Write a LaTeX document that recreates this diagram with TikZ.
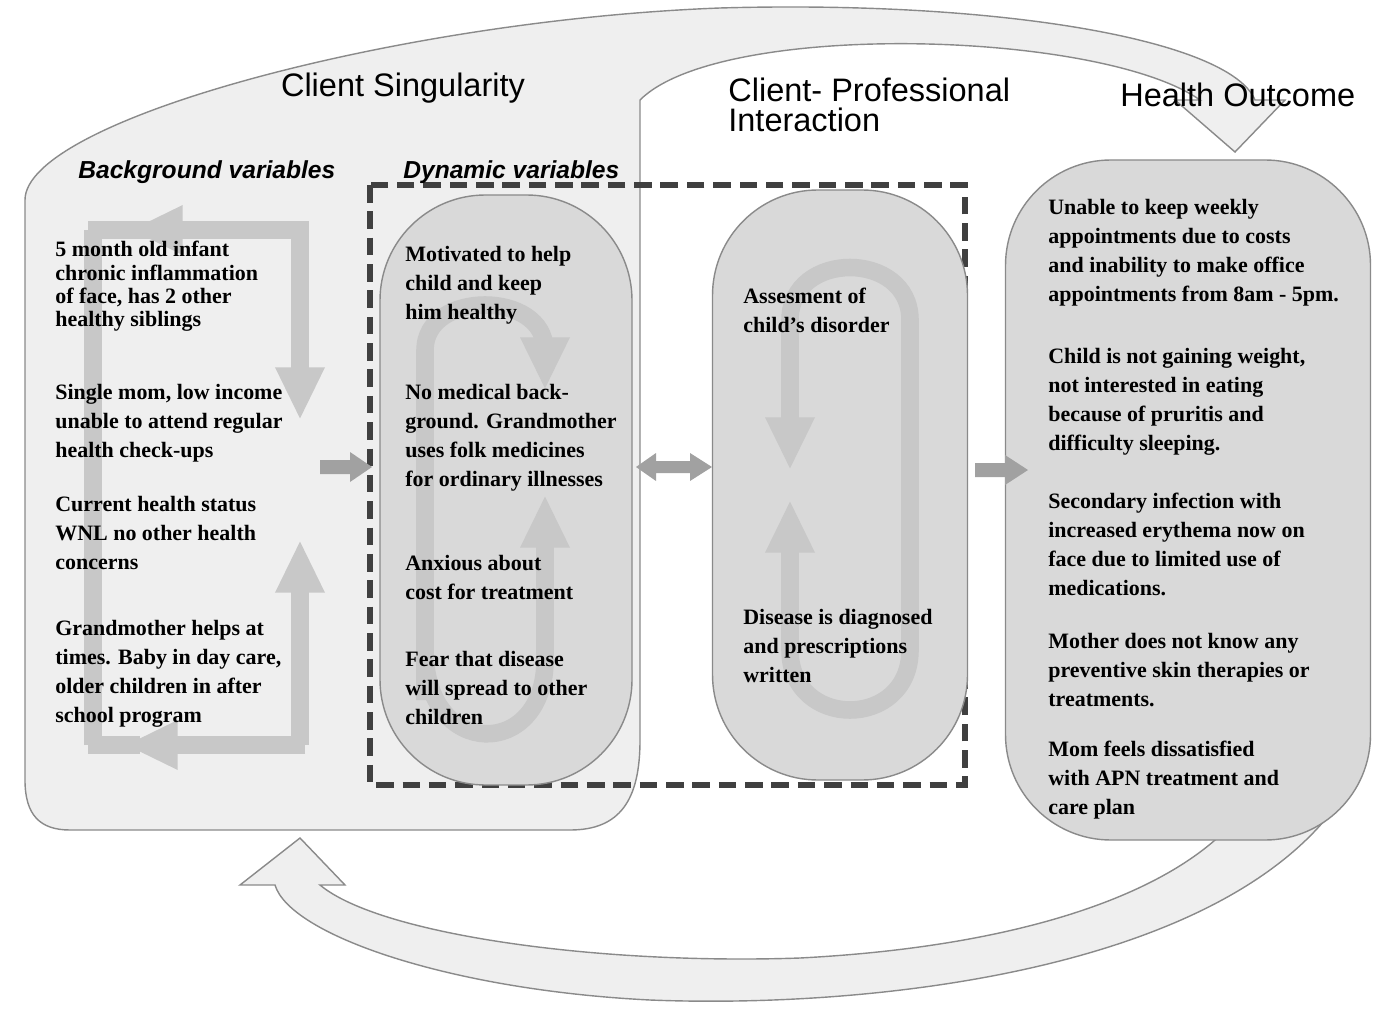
\documentclass[tikz,border=0pt]{standalone}
\usepackage{fontspec}
\setmainfont{Liberation Serif}
\newfontfamily\hsans{Liberation Sans}
\usetikzlibrary{arrows.meta}
\definecolor{bgA}{HTML}{EFEFEF}
\definecolor{bgB}{HTML}{D9D9D9}
\definecolor{loopc}{HTML}{C8C8C8}
\definecolor{edge}{HTML}{8A8A8A}
\begin{document}
\begin{tikzpicture}[x=0.02cm,y=-0.02cm,
  txt/.style={anchor=north west,align=left,inner sep=0pt,font=\fontsize{12.5}{16.4}\selectfont\bfseries},
  ttl/.style={inner sep=0pt,font=\hsans\fontsize{18.5}{17}\selectfont},
  sub/.style={anchor=north west,inner sep=0pt,font=\hsans\fontsize{14}{16}\selectfont\bfseries\itshape},
  box/.style={draw=edge,fill=bgB,rounded corners=60,line width=0.8pt},
  loop/.style={draw=loopc,line width=10pt,-{Triangle[width=26pt,length=30pt]}},
  loopn/.style={draw=loopc,line width=10pt},
  blk/.style={draw=none,fill=edge!80}]
\useasboundingbox (0,0) rectangle (1378,1016);
% bottom return arrow
\path[fill=bgA,draw=edge,line width=0.8pt] (1370,740) .. controls (1300,960) and (900,1010) .. (650,1000)
  .. controls (450,990) and (290,935) .. (275,885) -- (240,885) -- (300,838) -- (345,885) -- (320,885)
  .. controls (380,935) and (600,965) .. (800,958) .. controls (1050,945) and (1200,880) .. (1250,800) -- cycle;
% left region + top arrow
\path[fill=bgA,draw=edge,line width=0.8pt] (25,200) .. controls (25,120) and (400,20) .. (720,8)
  .. controls (1000,0) and (1230,40) .. (1255,100) -- (1285,100) -- (1235,152) -- (1175,100) -- (1200,100)
  .. controls (1100,30) and (720,20) .. (640,100) -- (640,740) .. controls (640,800) and (620,830) .. (570,830)
  -- (70,830) .. controls (40,830) and (25,815) .. (25,780) -- cycle;
% right box
\node[box,minimum width=365*0.02cm,minimum height=680*0.02cm] (rb) at (1188,500) {};
% dashed
\draw[line width=3pt,dash pattern=on 10pt off 5pt,color=black!75] (370,185) rectangle (965,785);
\node[box,minimum width=252*0.02cm,minimum height=590*0.02cm] (db) at (506,490) {};
\node[box,minimum width=255*0.02cm,minimum height=590*0.02cm] (mb) at (840,485) {};
% left loops
\draw[loopn] (93,745) -- (93,230);
\draw[loopn] (88,230) -- (160,230);
\draw[loop] (300,230) -- (130,230);
\draw[loop] (140,230) -- (300,230) -- (300,420);
\draw[loop] (300,745) -- (300,540);
\draw[loop] (305,745) -- (125,745);
\draw[loopn] (88,745) -- (140,745);
% dynamic loop
\draw[loop] (425,700) -- (425,350) .. controls (425,290) and (545,290) .. (545,350) -- (545,390);
\draw[loop] (425,650) .. controls (425,760) and (545,760) .. (545,660) -- (545,495);
% middle loop
\draw[loop] (910,320) .. controls (910,250) and (790,250) .. (790,320) -- (790,470);
\draw[loop] (790,650) -- (790,500);
\draw[loopn] (910,320) -- (910,650) .. controls (910,730) and (790,730) .. (790,650);
% block arrows
\path[blk] (320,460) -- (350,460) -- (350,452) -- (372,467) -- (350,482) -- (350,474) -- (320,474) -- cycle;
\path[blk] (636,467) -- (656,453) -- (656,461) -- (690,461) -- (690,453) -- (712,467) -- (690,481) -- (690,473) -- (656,473) -- (656,481) -- cycle;
\path[blk] (975,463) -- (1005,463) -- (1005,455) -- (1028,470) -- (1005,485) -- (1005,477) -- (975,477) -- cycle;
% titles
\node[ttl] (t1) at (403,88) {Client Singularity};
\node[ttl,anchor=north west,align=left,font=\hsans\fontsize{18.5}{17}\selectfont] (t2) at (728,78) {Client- Professional\\Interaction};
\node[ttl,anchor=west] (t3) at (1120,95) {Health Outcome};
\node[sub] (s1) at (78,160) {Background variables};
\node[sub] (s2) at (403,160) {Dynamic variables};
% texts
\node[txt,font=\fontsize{12.5}{13.2}\selectfont\bfseries] (l1) at (55,241) {5 month old infant\\chronic inflammation\\of face, has 2 other\\healthy siblings};
\node[txt] (l2) at (55,384) {Single mom, low income\\unable to attend regular\\health check-ups};
\node[txt] (l3) at (55,496) {Current health status\\WNL no other health\\concerns};
\node[txt] (l4) at (55,620) {Grandmother helps at\\times. Baby in day care,\\older children in after\\school program};
\node[txt] (d1) at (405,246) {Motivated to help\\child and keep\\him healthy};
\node[txt] (d2) at (405,384) {No medical back-\\ground. Grandmother\\uses folk medicines\\for ordinary illnesses};
\node[txt] (d3) at (405,555) {Anxious about\\cost for treatment};
\node[txt] (d4) at (405,651) {Fear that disease\\will spread to other\\children};
\node[txt] (m1) at (743,288) {Assesment of\\child’s disorder};
\node[txt] (m2) at (743,609) {Disease is diagnosed\\and prescriptions\\written};
\node[txt] (r1) at (1048,199) {Unable to keep weekly\\appointments due to costs\\and inability to make office\\appointments from 8am - 5pm.};
\node[txt] (r2) at (1048,348) {Child is not gaining weight,\\not interested in eating\\because of pruritis and\\difficulty sleeping.};
\node[txt] (r3) at (1048,493) {Secondary infection with\\increased erythema now on\\face due to limited use of\\medications.};
\node[txt] (r4) at (1048,633) {Mother does not know any\\preventive skin therapies or\\treatments.};
\node[txt] (r5) at (1048,741) {Mom feels dissatisfied\\with APN treatment and\\care plan};
\end{tikzpicture}
\end{document}
